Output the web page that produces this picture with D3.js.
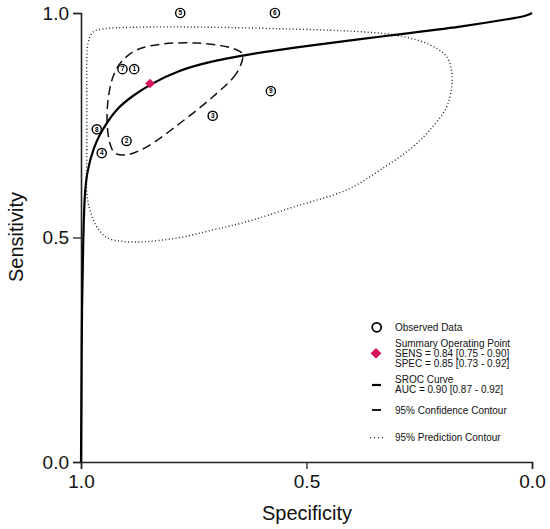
<!DOCTYPE html>
<html>
<head>
<meta charset="utf-8">
<script src="https://cdn.jsdelivr.net/npm/d3@7"></script>
<style>
  body { margin: 0; background: #fff; }
  svg { font-family: "Liberation Sans", Arial, Helvetica, sans-serif; }
</style>
</head>
<body>
<div id="chart"></div>
<script>

// observed studies (specificity, sensitivity)
var studyIds = ["1", "2", "3", "4", "5", "6", "7", "8", "9"];
var studySpec = [0.882, 0.899, 0.708, 0.954, 0.780, 0.570, 0.908, 0.965, 0.579];
var studySens = [0.875, 0.715, 0.771, 0.688, 1.000, 1.000, 0.875, 0.741, 0.826];

// summary operating point
var summarySpec = 0.847;
var summarySens = 0.843;

// SROC curve
var srocSpec = [1.0, 0.999, 0.998, 0.995, 0.992, 0.986, 0.972, 0.958, 0.945, 0.920, 0.885, 0.845, 0.785, 0.712, 0.641, 0.514, 0.308, 0.152, 0.042, 0.012, 0.0];
var srocSens = [0.0, 0.15, 0.35, 0.50, 0.60, 0.65, 0.70, 0.73, 0.752, 0.788, 0.816, 0.842, 0.872, 0.892, 0.906, 0.925, 0.951, 0.970, 0.988, 0.994, 1.0];

// 95% confidence contour
var confSpec = [0.641, 0.655, 0.707, 0.780, 0.854, 0.899, 0.925, 0.936, 0.942, 0.940, 0.929, 0.910, 0.876, 0.818, 0.743, 0.677, 0.647];
var confSens = [0.906, 0.866, 0.814, 0.755, 0.702, 0.684, 0.688, 0.710, 0.755, 0.806, 0.858, 0.892, 0.918, 0.931, 0.933, 0.925, 0.914];

// 95% prediction contour
var predSpec = [0.987, 0.987, 0.987, 0.987, 0.984, 0.973, 0.947, 0.891, 0.780, 0.559, 0.375, 0.293, 0.226, 0.189, 0.178, 0.178, 0.189, 0.220, 0.264, 0.337, 0.411, 0.522, 0.633, 0.707, 0.780, 0.854, 0.906, 0.943, 0.965, 0.980];
var predSens = [0.599, 0.695, 0.806, 0.895, 0.935, 0.958, 0.965, 0.968, 0.969, 0.965, 0.958, 0.949, 0.929, 0.903, 0.869, 0.836, 0.791, 0.747, 0.702, 0.650, 0.606, 0.570, 0.535, 0.517, 0.500, 0.491, 0.491, 0.500, 0.524, 0.561];

var xTicks = [1.0, 0.5, 0.0];
var yTicks = [0.0, 0.5, 1.0];

var legendLabels = [
    ["Observed Data"],
    ["Summary Operating Point", "SENS = 0.84 [0.75 - 0.90]", "SPEC = 0.85 [0.73 - 0.92]"],
    ["SROC Curve", "AUC = 0.90 [0.87 - 0.92]"],
    ["95% Confidence Contour"],
    ["95% Prediction Contour"]
];

var width = 550, height = 529;
var pinkColor = "#d6175f";

var svg = d3.select("#chart").append("svg")
    .attr("width", width)
    .attr("height", height);

var x = d3.scaleLinear().domain([1, 0]).range([81, 532]);
var y = d3.scaleLinear().domain([0, 1]).range([462, 13]);

function zipPts(a, b) {
    return a.map(function(d, i) { return [d, b[i]]; });
}

// axes
var xAxis = svg.append("g")
    .attr("transform", "translate(0,462)")
    .call(d3.axisBottom(x).tickValues(xTicks).tickFormat(d3.format(".1f")).tickSize(7).tickPadding(6));
var yAxis = svg.append("g")
    .attr("transform", "translate(81,0)")
    .call(d3.axisLeft(y).tickValues(yTicks).tickFormat(d3.format(".1f")).tickSize(8).tickPadding(4));

[xAxis, yAxis].forEach(function(ax) {
    ax.select(".domain").attr("stroke", "#222").attr("stroke-width", 1.6);
    ax.selectAll(".tick line").attr("stroke", "#222").attr("stroke-width", 1.3);
    ax.selectAll(".tick text")
        .attr("fill", "#111")
        .style("font-size", "19px")
        .style("font-family", "'Liberation Sans', Arial, sans-serif");
});

svg.append("text")
    .attr("x", 307)
    .attr("y", 520)
    .attr("text-anchor", "middle")
    .style("font-size", "20px")
    .attr("fill", "#111")
    .text("Specificity");

svg.append("text")
    .attr("transform", "translate(23,237) rotate(-90)")
    .attr("text-anchor", "middle")
    .style("font-size", "20px")
    .attr("fill", "#111")
    .text("Sensitivity");

var line = d3.line()
    .x(function(d) { return x(d[0]); })
    .y(function(d) { return y(d[1]); });

// prediction contour (dotted)
svg.append("path")
    .datum(zipPts(predSpec, predSens))
    .attr("d", line.curve(d3.curveCatmullRomClosed.alpha(0.5)))
    .attr("fill", "none")
    .attr("stroke", "#222")
    .attr("stroke-width", 1.4)
    .attr("stroke-dasharray", "1,2.4");

// confidence contour (dashed)
svg.append("path")
    .datum(zipPts(confSpec, confSens))
    .attr("d", line.curve(d3.curveCatmullRomClosed.alpha(0.5)))
    .attr("fill", "none")
    .attr("stroke", "#111")
    .attr("stroke-width", 1.5)
    .attr("stroke-dasharray", "9,5");

// SROC curve
svg.append("path")
    .datum(zipPts(srocSpec, srocSens))
    .attr("d", line.curve(d3.curveBasis))
    .attr("fill", "none")
    .attr("stroke", "#000")
    .attr("stroke-width", 2.2);

// observed studies
var studies = svg.selectAll(".study")
    .data(studyIds.map(function(id, i) { return { id: id, spec: studySpec[i], sens: studySens[i] }; }))
    .enter()
    .append("g")
    .attr("class", "study")
    .attr("transform", function(d) { return "translate(" + x(d.spec) + "," + y(d.sens) + ")"; });

studies.append("circle")
    .attr("r", 4.6)
    .attr("fill", "#fff")
    .attr("stroke", "#000")
    .attr("stroke-width", 1.4);

studies.append("text")
    .attr("text-anchor", "middle")
    .attr("dy", "0.36em")
    .style("font-size", "6.5px")
    .style("font-weight", "bold")
    .text(function(d) { return d.id; });

// summary point
svg.append("path")
    .attr("d", d3.symbol().type(d3.symbolDiamond2).size(60))
    .attr("transform", "translate(" + x(summarySpec) + "," + y(summarySens) + ")")
    .attr("fill", pinkColor);

// legend
var legend = svg.append("g").attr("class", "legend");
var legendTop = [330.5, 346.7, 383.3, 414, 440.7];

legendLabels.forEach(function(lines, i) {
    lines.forEach(function(t, j) {
        legend.append("text")
            .attr("x", 395)
            .attr("y", legendTop[i] + j * 10)
            .style("font-size", "10px")
            .attr("fill", "#111")
            .text(t);
    });
});

legend.append("circle")
    .attr("cx", 376.7).attr("cy", 327.3).attr("r", 4.5)
    .attr("fill", "#fff").attr("stroke", "#000").attr("stroke-width", 1.8);

legend.append("path")
    .attr("d", d3.symbol().type(d3.symbolDiamond2).size(75))
    .attr("transform", "translate(376,353.3)")
    .attr("fill", pinkColor);

legend.append("line")
    .attr("x1", 372).attr("x2", 381).attr("y1", 385).attr("y2", 385)
    .attr("stroke", "#000").attr("stroke-width", 2.2);

legend.append("line")
    .attr("x1", 372).attr("x2", 381).attr("y1", 410).attr("y2", 410)
    .attr("stroke", "#000").attr("stroke-width", 1.8);

legend.append("line")
    .attr("x1", 370).attr("x2", 383).attr("y1", 437.7).attr("y2", 437.7)
    .attr("stroke", "#222").attr("stroke-width", 1.2)
    .attr("stroke-dasharray", "1,3");

</script>
</body>
</html>
